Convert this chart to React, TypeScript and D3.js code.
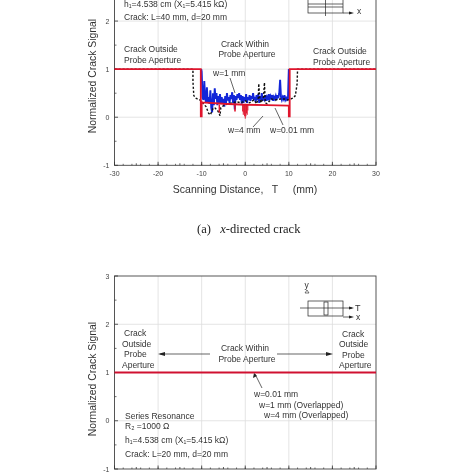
import React from "react";
import * as d3 from "d3";

const xTicks = [-30, -20, -10, 0, 10, 20, 30];
const yTicks = [-1, 0, 1, 2, 3];
const xMinor = [-25, -15, -5, 5, 15, 25];

const redX = [-30, -10.2, -10.2, -10, -10, -9.9, -5, 0, 5, 9.9, 10, 10, 10.2, 10.2, 30];
const redY = [1, 1, 0.02, 0.02, 0.32, 0.31, 0.28, 0.26, 0.25, 0.24, 0.24, 0.02, 0.02, 1, 1];
const redSpikeX = [-0.6, -0.45, -0.3, -0.15, 0, 0.15, 0.3, 0.45, 0.6, -6, -5.9, -2.4, -2.3];
const redSpikeY = [0.12, 0.05, 0.1, 0.02, -0.03, 0.02, 0.08, 0.05, 0.14, 0.1, 0.1, 0.12, 0.12];

const dashX = [-30, -12, -12, -11.8, -11.4, -11, -10.4, -9.8, -9, -8.4, -8, -7.4, -7, -6.2, -5.8, -5.6, -5, -4, -3, -2, -1, 0, 1, 2, 2.6, 3, 3.1, 3.3, 3.6, 4.2, 4.4, 4.6, 5, 6, 7, 8, 9, 9.8, 10.5, 11, 11.5, 11.9, 12, 30];
const dashY = [1, 1, 0.75, 0.45, 0.4, 0.38, 0.36, 0.3, 0.22, 0.08, 0.05, 0.18, 0.2, 0.12, 0.03, 0.2, 0.24, 0.28, 0.3, 0.32, 0.3, 0.34, 0.3, 0.36, 0.28, 0.4, 0.7, 0.42, 0.3, 0.42, 0.72, 0.3, 0.28, 0.38, 0.36, 0.38, 0.38, 0.36, 0.38, 0.4, 0.45, 0.7, 1, 1];

const blueX = [-10.1, -10, -9.8, -9.6, -9.4, -9.2, -9, -8.8, -8.6, -8.4, -8.2, -8, -7.8, -7.6, -7.4, -7.2, -7, -6.8, -6.6, -6.4, -6.2, -6, -5.8, -5.6, -5.4, -5.2, -5, -4.8, -4.6, -4.4, -4.2, -4, -3.8, -3.6, -3.4, -3.2, -3, -2.8, -2.6, -2.4, -2.2, -2, -1.8, -1.6, -1.4, -1.2, -1, -0.8, -0.6, -0.4, -0.2, 0, 0.2, 0.4, 0.6, 0.8, 1, 1.2, 1.4, 1.6, 1.8, 2, 2.2, 2.4, 2.6, 2.8, 3, 3.2, 3.4, 3.6, 3.8, 4, 4.2, 4.4, 4.6, 4.8, 5, 5.2, 5.4, 5.6, 5.8, 6, 6.2, 6.4, 6.6, 6.8, 7, 7.2, 7.4, 7.6, 7.8, 8, 8.2, 8.4, 8.6, 8.8, 9, 9.2, 9.4, 9.6, 9.8, 10];
const blueY = [1, 0.95, 0.42, 0.36, 0.75, 0.4, 0.3, 0.62, 0.3, 0.42, 0.28, 0.56, 0.2, 0.1, 0.5, 0.25, 0.6, 0.38, 0.5, 0.25, 0.44, 0.3, 0.48, 0.28, 0.42, 0.3, 0.38, 0.22, 0.44, 0.3, 0.5, 0.35, 0.42, 0.3, 0.46, 0.38, 0.52, 0.3, 0.46, 0.16, 0.44, 0.36, 0.48, 0.4, 0.5, 0.36, 0.46, 0.28, 0.44, 0.3, 0.42, 0.34, 0.48, 0.3, 0.42, 0.36, 0.46, 0.34, 0.44, 0.38, 0.5, 0.36, 0.42, 0.32, 0.46, 0.36, 0.48, 0.3, 0.44, 0.36, 0.5, 0.34, 0.44, 0.38, 0.46, 0.34, 0.42, 0.38, 0.48, 0.36, 0.44, 0.4, 0.46, 0.34, 0.42, 0.38, 0.44, 0.36, 0.46, 0.4, 0.5, 0.78, 0.42, 0.36, 0.42, 0.38, 0.46, 0.36, 0.4, 0.36, 0.38, 1];

const flatX = [-30, 30];
const flatY = [1, 1];

const font = "Arial, 'Liberation Sans', sans-serif";
const ink = "#333";

function Axes({ top, bottom }: { top: number; bottom: number }) {
  const x = d3.scaleLinear().domain([-30, 30]).range([114.5, 376]);
  const y = d3.scaleLinear().domain([-1, 3]).range([bottom, top]);
  return (
    <g>
      {xTicks.slice(1, -1).map((t) => (
        <line key={t} x1={x(t)} x2={x(t)} y1={y(3)} y2={y(-1)} stroke="#ddd" strokeWidth={0.8} />
      ))}
      {yTicks.slice(1, -1).map((t) => (
        <line key={t} x1={x(-30)} x2={x(30)} y1={y(t)} y2={y(t)} stroke="#ddd" strokeWidth={0.8} />
      ))}
      <rect x={x(-30)} y={y(3)} width={x(30) - x(-30)} height={y(-1) - y(3)} fill="none" stroke="#444" strokeWidth={0.9} />
      {xTicks.map((t) => (
        <g key={t}>
          <line x1={x(t)} x2={x(t)} y1={y(-1)} y2={y(-1) - 3.5} stroke="#333" strokeWidth={0.8} />
          {y(-1) + 11 < 474 && (
            <text x={x(t)} y={y(-1) + 11} fontSize={7} textAnchor="middle" fontFamily={font} fill="#444">{t}</text>
          )}
        </g>
      ))}
      {xMinor.map((t) => (
        <line key={t} x1={x(t)} x2={x(t)} y1={y(-1)} y2={y(-1) - 2} stroke="#333" strokeWidth={0.8} />
      ))}
      {d3.range(-28, 30, 2).map((t) => (
        <line key={t} x1={x(t)} x2={x(t)} y1={y(-1)} y2={y(-1) - 1.5} stroke="#333" strokeWidth={0.7} />
      ))}
      {yTicks.filter((t) => y(t) > 5).map((t) => (
        <g key={t}>
          <line x1={x(-30)} x2={x(-30) + 3.5} y1={y(t)} y2={y(t)} stroke="#333" strokeWidth={0.8} />
          <text x={x(-30) - 5} y={y(t) + 2.5} fontSize={7} textAnchor="end" fontFamily={font} fill="#444">{t}</text>
        </g>
      ))}
      {d3.range(-0.5, 3, 1).map((t) => (
        <line key={t} x1={x(-30)} x2={x(-30) + 2} y1={y(t)} y2={y(t)} stroke="#333" strokeWidth={0.7} />
      ))}
    </g>
  );
}

function Label({ x, y, t, size = 8.5, anchor = "start" }: { x: number; y: number; t: React.ReactNode; size?: number; anchor?: string }) {
  return <text x={x} y={y} fontSize={size} fontFamily={font} fill={ink} textAnchor={anchor}>{t}</text>;
}

export default function App() {
  const x = d3.scaleLinear().domain([-30, 30]).range([114.5, 376]);
  const yA = d3.scaleLinear().domain([-1, 3]).range([165.3, -27]);
  const yB = d3.scaleLinear().domain([-1, 3]).range([469, 276]);
  const pts = (xs: number[], ys: number[]) => xs.map((v, i) => [v, ys[i]] as [number, number]);
  const lineA = d3.line<[number, number]>().x((d) => x(d[0])).y((d) => yA(d[1]));
  const lineB = d3.line<[number, number]>().x((d) => x(d[0])).y((d) => yB(d[1]));
  return (
    <svg width={474} height={474} style={{ position: "absolute", left: 0, top: 0, background: "#fff", filter: "blur(0.35px)" }}>
      <Axes top={-27} bottom={165.3} />
      <path d={lineA(pts(blueX, blueY))!} fill="none" stroke="#1226d8" strokeWidth={1.9} />
      <path d={lineA(pts(dashX, dashY))!} fill="none" stroke="#111" strokeWidth={1.4} strokeDasharray="2.2 1.8" />
      <path d={lineA(pts(redX, redY))!} fill="none" stroke="#e0142c" strokeWidth={1.8} />
      {redSpikeX.map((v, i) => (
        <line key={i} x1={x(v)} x2={x(v)} y1={yA(0.26)} y2={yA(redSpikeY[i])} stroke="#e0142c" strokeWidth={1} />
      ))}

      <Label x={124} y={7} t="h₁=4.538 cm (X₁=5.415 kΩ)" />
      <Label x={124} y={20} t="Crack: L=40 mm, d=20 mm" />
      <Label x={124} y={52} t="Crack Outside" />
      <Label x={124} y={62.5} t="Probe Aperture" />
      <Label x={245} y={47} t="Crack Within" anchor="middle" />
      <Label x={247} y={57} t="Probe Aperture" anchor="middle" />
      <Label x={313} y={54} t="Crack Outside" />
      <Label x={313} y={65} t="Probe Aperture" />
      <Label x={213} y={75.5} t="w=1 mm" />
      <Label x={228} y={133} t="w=4 mm" />
      <Label x={270} y={133} t="w=0.01 mm" />
      <g stroke="#222" strokeWidth={0.7} fill="none">
        <line x1={230} y1={78} x2={235} y2={93} />
        <line x1={263} y1={116} x2={253} y2={127} />
        <line x1={275} y1={108} x2={283} y2={125} />
        <rect x={308} y={-6} width={35} height={19} />
        <line x1={308} y1={4} x2={343} y2={4} />
        <line x1={308} y1={7} x2={343} y2={7} />
        <line x1={325.5} y1={-8} x2={325.5} y2={16} />
        <line x1={343} y1={13} x2={351} y2={13} />
      </g>
      <Label x={357} y={14} t="x" />
      <path d="M354 13 L349 11.5 L349 14.5 Z" fill="#222" />

      <text transform="translate(96,76) rotate(-90)" fontSize={10.4} fontFamily={font} fill={ink} textAnchor="middle">Normalized Crack Signal</text>
      <text x={245} y={193} fontSize={10.5} fontFamily={font} fill={ink} textAnchor="middle" style={{ whiteSpace: "pre" }}>Scanning Distance,   T     (mm)</text>
      <text x={197} y={233} fontSize={12.5} fontFamily="'Liberation Serif', serif" fill="#222" style={{ whiteSpace: "pre" }}>(a)   <tspan fontStyle="italic">x</tspan>-directed crack</text>

      <Axes top={276} bottom={469} />
      <path d={lineB(pts(flatX, flatY))!} fill="none" stroke="#d01030" strokeWidth={2} />
      <Label x={124} y={336} t="Crack" />
      <Label x={122} y={347} t="Outside" />
      <Label x={124} y={357} t="Probe" />
      <Label x={122} y={368} t="Aperture" />
      <Label x={245} y={351} t="Crack Within" anchor="middle" />
      <Label x={247} y={362} t="Probe Aperture" anchor="middle" />
      <Label x={342} y={337} t="Crack" />
      <Label x={339} y={347} t="Outside" />
      <Label x={342} y={358} t="Probe" />
      <Label x={339} y={368} t="Aperture" />
      <g stroke="#222" strokeWidth={0.7} fill="none">
        <line x1={210} y1={354} x2={160} y2={354} />
        <line x1={277} y1={354} x2={330} y2={354} />
        <line x1={262} y1={388} x2={255} y2={374} />
        <rect x={308} y={301} width={35} height={15} />
        <rect x={324} y={302} width={4} height={13} />
        <line x1={300} y1={308} x2={352} y2={308} />
        <line x1={343} y1={317} x2={351} y2={317} />
      </g>
      <path d="M158 354 L165 352 L165 356 Z" fill="#222" />
      <path d="M333 354 L326 352 L326 356 Z" fill="#222" />
      <path d="M254 373 L253 378 L257 376 Z" fill="#222" />
      <path d="M354 308 L349 306.5 L349 309.5 Z" fill="#222" />
      <path d="M354 317 L349 315.5 L349 318.5 Z" fill="#222" />
      <Label x={355} y={310.5} t="T" size={9} />
      <Label x={356} y={319.5} t="x" />
      <Label x={304.5} y={288} t="y" />
      <path d="M307 290 L305 293 L309 293 Z" fill="none" stroke="#222" strokeWidth={0.6} />
      <Label x={254} y={397} t="w=0.01 mm" />
      <Label x={259} y={408} t="w=1 mm (Overlapped)" />
      <Label x={264} y={418} t="w=4 mm (Overlapped)" />
      <Label x={125} y={419} t="Series Resonance" />
      <Label x={125} y={429} t="R₂ =1000 Ω" />
      <Label x={125} y={443} t="h₁=4.538 cm (X₁=5.415 kΩ)" />
      <Label x={125} y={457} t="Crack: L=20 mm, d=20 mm" />
      <text transform="translate(96,379) rotate(-90)" fontSize={10.4} fontFamily={font} fill={ink} textAnchor="middle">Normalized Crack Signal</text>
    </svg>
  );
}
